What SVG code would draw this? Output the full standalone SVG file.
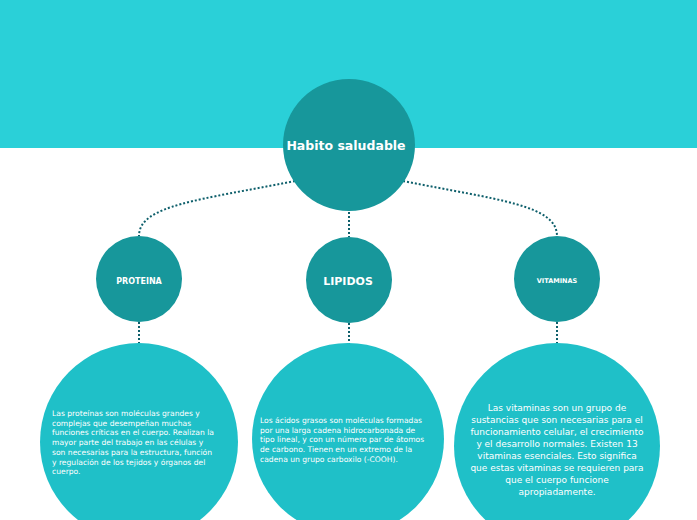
<svg xmlns="http://www.w3.org/2000/svg" width="697" height="520" viewBox="0 0 697 520">
<style>
.c{stroke:#0e5f6b;stroke-width:2;stroke-dasharray:2 2;fill:none}
.t{font-family:"DejaVu Sans",Verdana,sans-serif;fill:#fff}
.s{font-size:7.6px}
.v{font-size:9px;text-anchor:middle}
</style>
<rect width="697" height="520" fill="#fff"/>
<rect width="697" height="148" fill="#2ad0d8"/>
<g id="connectors">
<path class="c" d="M295,181 C200,200 139,205 139,236"/>
<path class="c" d="M403,181 C498,200 557,205 557,236"/>
<path class="c" d="M349,212 V237"/>
<path class="c" d="M139,322 V343"/>
<path class="c" d="M349,323 V344"/>
<path class="c" d="M557,322 V343"/>
</g>
<g id="habito"><circle cx="349" cy="145" r="66" fill="#17979b"/><text class="t" x="346" y="150" font-size="12.5" font-weight="bold" text-anchor="middle">Habito saludable</text></g>
<g id="proteina"><circle cx="139" cy="279" r="43" fill="#17979b"/><text class="t" x="139" y="284" font-size="8" font-weight="bold" text-anchor="middle">PROTEINA</text></g>
<g id="lipidos"><circle cx="349" cy="280" r="43" fill="#17979b"/><text class="t" x="348" y="285" font-size="11" font-weight="bold" text-anchor="middle">LIPIDOS</text></g>
<g id="vitaminas"><circle cx="557" cy="279" r="43" fill="#17979b"/><text class="t" x="557" y="283" font-size="6.5" font-weight="bold" text-anchor="middle">VITAMINAS</text></g>
<g id="p-text"><circle cx="139" cy="442" r="99" fill="#1fc0c8"/>
<text class="t s"><tspan x="52" y="416">Las proteínas son moléculas grandes y</tspan><tspan x="52" y="425.7">complejas que desempeñan muchas</tspan><tspan x="52" y="435.4">funciones críticas en el cuerpo. Realizan la</tspan><tspan x="52" y="445.1">mayor parte del trabajo en las células y</tspan><tspan x="52" y="454.8">son necesarias para la estructura, función</tspan><tspan x="52" y="464.5">y regulación de los tejidos y órganos del</tspan><tspan x="52" y="474.2">cuerpo.</tspan></text></g>
<g id="l-text"><circle cx="348" cy="439" r="96" fill="#1fc0c8"/>
<text class="t s"><tspan x="260" y="423">Los ácidos grasos son moléculas formadas</tspan><tspan x="260" y="432.7">por una larga cadena hidrocarbonada de</tspan><tspan x="260" y="442.4">tipo lineal, y con un número par de átomos</tspan><tspan x="260" y="452.1">de carbono. Tienen en un extremo de la</tspan><tspan x="260" y="461.8">cadena un grupo carboxilo (-COOH).</tspan></text></g>
<g id="v-text"><circle cx="557" cy="446" r="103" fill="#1fc0c8"/>
<text class="t v"><tspan x="557" y="411">Las vitaminas son un grupo de</tspan><tspan x="557" y="423">sustancias que son necesarias para el</tspan><tspan x="557" y="435">funcionamiento celular, el crecimiento</tspan><tspan x="557" y="447">y el desarrollo normales. Existen 13</tspan><tspan x="557" y="459">vitaminas esenciales. Esto significa</tspan><tspan x="557" y="471">que estas vitaminas se requieren para</tspan><tspan x="557" y="483">que el cuerpo funcione</tspan><tspan x="557" y="491" dy="4">apropiadamente.</tspan></text></g>
</svg>
